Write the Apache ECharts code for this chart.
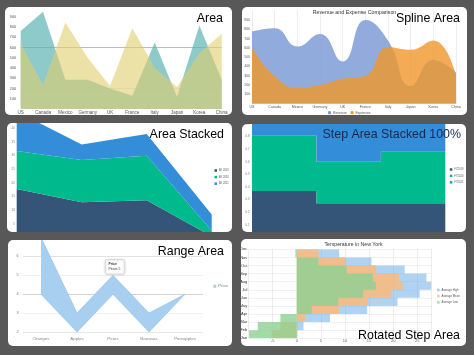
<!DOCTYPE html>
<html><head><meta charset="utf-8">
<script src="https://cdn.jsdelivr.net/npm/echarts@6.0.0/dist/echarts.min.js"></script>
<style>
html,body{margin:0;padding:0;width:474px;height:355px;background:#585858;overflow:hidden;}
.p{position:absolute;background:#fff;border-radius:5px;overflow:hidden;}
</style></head>
<body>
<div class="p" id="c1" style="left:5px;top:7px;width:227px;height:108px"></div>
<div class="p" id="c2" style="left:242px;top:7px;width:225px;height:108px"></div>
<div class="p" id="c3" style="left:7px;top:123px;width:225px;height:109px"></div>
<div class="p" id="c4" style="left:242px;top:124px;width:224px;height:108px"></div>
<div class="p" id="c5" style="left:8px;top:240px;width:224px;height:106px"></div>
<div class="p" id="c6" style="left:241px;top:239px;width:225px;height:107px"></div>
<script>
// ---------- data ----------
const countries = ['US','Canada','Mexico','Germany','UK','France','Italy','Japan','Korea','China'];
const areaSeriesA = [760, 950, 285, 285, 200, 130, 650, 120, 815, 285];
const areaSeriesB = [640, 235, 845, 500, 225, 790, 400, 215, 545, 735];
const revenue = [775, 810, 615, 750, 455, 900, 680, 190, 470, 335];
const expenses = [600, 300, 170, 200, 265, 300, 610, 580, 680, 300];

const stackCats = ['Q1','Q2','Q3','Q4'];
const stackNames = ['AY 2019','AY 2020','AY 2021'];
const stackA = [17.8, 12.9, 13.7, 0.5];
const stackB = [13.8, 15.4, 16.2, 2.0];
const stackC = [14.4, 5.7, 7.9, 6.0];

const stepCats = ['P1','P2','P3','P4'];
const stepNames = ['FY2019','FY2020','FY2021'];
const stepA = [0.367, 0.27, 0.27, 0.27];
const stepB = [0.439, 0.33, 0.41, 0.41];
const stepC = [0.194, 0.40, 0.32, 0.32];

const fruits = ['Oranges','Apples','Pears','Bananas','Pineapples'];
const priceLow = [4, 2, 4, 2, 4];
const priceHigh = [7, 3, 5, 3, 4];

const months = ['Jan','Feb','Mar','Apr','May','Jun','Jul','Aug','Sep','Oct','Nov','Dec'];
const avgHigh = [-0.5, 1.4, 6.9, 14.6, 20.9, 25.5, 27.9, 26.9, 22.4, 15.5, 8.8, 3.5];
const avgMean = [-5.2, -3.4, 1.7, 8.8, 14.8, 19.6, 22.0, 21.3, 16.5, 10.0, 4.5, -1.0];
const avgLow = [-9.9, -8.1, -3.4, 3.1, 8.6, 13.8, 16.4, 15.8, 10.3, 4.5, -0.3, -5.8];

// ---------- helpers ----------
const FF = "'Liberation Sans', Arial, Helvetica, sans-serif";
const T = 'rgba(0,0,0,0)';
function title(text, rx, my, color) {
  return {type:'text', x:rx, y:my, z:100, style:{text:text, fill:color||'#000', fontSize:12.4,
    fontFamily:FF, align:'right', verticalAlign:'middle'}};
}
function mk(id, opt) {
  const c = echarts.init(document.getElementById(id), null, {renderer:'canvas'});
  c.setOption(opt);
  return c;
}

// ---------- panel 1: Area ----------
mk('c1', {
  animation:false, textStyle:{fontFamily:FF},
  grid:{left:15.7, right:10.3, top:-0.5, bottom:6, outerBoundsMode:'none'},
  xAxis:{type:'category', data:countries, boundaryGap:false, axisLine:{show:false}, axisTick:{show:false},
    axisLabel:{interval:0, fontSize:4.5, color:'#555', margin:1}, splitLine:{show:false}},
  yAxis:{type:'value', min:0, max:1000, interval:100, z:3, axisLine:{show:false}, axisTick:{show:false},
    axisLabel:{fontSize:3.8, color:'#555', margin:4.5, showMinLabel:false, showMaxLabel:false},
    splitLine:{show:true, lineStyle:{width:0.7, color:[T,'rgba(0,0,0,0.13)','rgba(0,0,0,0.13)',T,T,T,'rgba(0,0,0,0.38)',T,T,T,T]}}},
  series:[
    {type:'line', data:areaSeriesA, symbol:'none', color:'#5fb3b3', lineStyle:{width:0}, areaStyle:{opacity:0.7}},
    {type:'line', data:areaSeriesB, symbol:'none', color:'#dfcf6e', lineStyle:{width:0}, areaStyle:{opacity:0.6}}
  ],
  graphic:{elements:[title('Area', 218, 12)]}
});

// ---------- panel 2: Spline Area ----------
mk('c2', {
  animation:false, textStyle:{fontFamily:FF},
  title:{text:'Revenue and Expense Comparison', left:'center', top:3, padding:0,
    textStyle:{fontSize:5.3, fontWeight:'normal', color:'#333', fontFamily:FF}},
  legend:{data:['Revenue','Expenses'], left:86, bottom:0.8, padding:0, icon:'rect', itemWidth:3, itemHeight:3, itemGap:4,
    textStyle:{fontSize:3.4, color:'#555', padding:[0,0,0,-3]}},
  grid:{left:10, right:11, top:3.7, bottom:11.3, outerBoundsMode:'none'},
  xAxis:{type:'category', data:countries, boundaryGap:false, z:3, axisLine:{show:false}, axisTick:{show:false},
    axisLabel:{interval:0, fontSize:3.6, color:'#555', margin:1.2},
    splitLine:{show:true, lineStyle:{width:0.6, color:'rgba(0,0,0,0.12)'}}},
  yAxis:{type:'value', min:0, max:1000, interval:100, axisLine:{show:false}, axisTick:{show:false},
    axisLabel:{fontSize:3.4, color:'#555', margin:2, showMinLabel:false, showMaxLabel:false}, splitLine:{show:false}},
  series:[
    {name:'Revenue', type:'line', smooth:true, data:revenue, symbol:'none', color:'#7e9dd6', lineStyle:{width:0}, areaStyle:{opacity:0.85}},
    {name:'Expenses', type:'line', smooth:true, data:expenses, symbol:'none', color:'#f0972a', lineStyle:{width:0}, areaStyle:{opacity:0.8}}
  ],
  graphic:{elements:[title('Spline Area', 218, 12)]}
});

// ---------- panel 3: Area Stacked ----------
const navy = '#345578', green = '#00b98c', blue = '#338dd8';
mk('c3', {
  animation:false, textStyle:{fontFamily:FF},
  legend:{data:stackNames, orient:'vertical', left:207.5, top:46, padding:0, icon:'rect', itemWidth:2.5, itemHeight:2.5, itemGap:3.6,
    textStyle:{fontSize:2.6, color:'#555', padding:[0,0,0,-3]}},
  grid:{left:9.7, right:20.3, top:-22.4, bottom:-5.7, outerBoundsMode:'none'},
  xAxis:{type:'category', data:stackCats, boundaryGap:false, show:false},
  yAxis:{type:'value', min:0, max:50, interval:5, axisLine:{show:false}, axisTick:{show:false}, splitLine:{show:false},
    axisLabel:{fontSize:2.8, color:'#777', margin:2}},
  series:[
    {name:stackNames[0], type:'line', stack:'s', data:stackA, symbol:'none', color:navy, lineStyle:{width:0}, areaStyle:{opacity:1}},
    {name:stackNames[1], type:'line', stack:'s', data:stackB, symbol:'none', color:green, lineStyle:{width:0}, areaStyle:{opacity:1}},
    {name:stackNames[2], type:'line', stack:'s', data:stackC, symbol:'none', color:blue, lineStyle:{width:0}, areaStyle:{opacity:1}}
  ],
  graphic:{elements:[title('Area Stacked', 217, 12)]}
});

// ---------- panel 4: Step Area Stacked 100% ----------
mk('c4', {
  animation:false, textStyle:{fontFamily:FF},
  legend:{data:stepNames, orient:'vertical', left:207.8, top:44, padding:0, icon:'rect', itemWidth:2.5, itemHeight:2.5, itemGap:3.4,
    textStyle:{fontSize:2.6, color:'#555', padding:[0,0,0,-3]}},
  grid:{left:10, right:20.7, top:-12.6, bottom:-5.3, outerBoundsMode:'none'},
  xAxis:{type:'category', data:stepCats, boundaryGap:false, show:false},
  yAxis:{type:'value', min:0, max:1, interval:0.1, axisLine:{show:false}, axisTick:{show:false}, splitLine:{show:false},
    axisLabel:{fontSize:2.9, color:'#777', margin:2.5, showMinLabel:false, showMaxLabel:false}},
  series:[
    {name:stepNames[0], type:'line', step:'end', stack:'s', data:stepA, symbol:'none', color:navy, lineStyle:{width:0}, areaStyle:{opacity:1}},
    {name:stepNames[1], type:'line', step:'end', stack:'s', data:stepB, symbol:'none', color:green, lineStyle:{width:0}, areaStyle:{opacity:1}},
    {name:stepNames[2], type:'line', step:'end', stack:'s', data:stepC, symbol:'none', color:blue, lineStyle:{width:0}, areaStyle:{opacity:1}}
  ],
  graphic:{elements:[title('Step Area Stacked 100%', 219, 11, '#16294d')]}
});

// ---------- panel 5: Range Area ----------
const c5 = mk('c5', {
  animation:false, textStyle:{fontFamily:FF},
  legend:{data:['Price'], left:205.3, top:44.3, padding:0, icon:'rect', itemWidth:3, itemHeight:3,
    textStyle:{fontSize:4.2, color:'#777', padding:[0,0,0,-3]}},
  grid:{left:15, right:29, top:-2.6, bottom:14, outerBoundsMode:'none'},
  xAxis:{type:'category', data:fruits, boundaryGap:true, axisLine:{show:false}, axisTick:{show:false},
    axisLabel:{interval:0, fontSize:4.4, color:'#888', margin:4.8}},
  yAxis:{type:'value', min:2, max:7, interval:1, axisLine:{show:false}, axisTick:{show:false},
    axisLabel:{fontSize:3.8, color:'#777', margin:4.3, showMaxLabel:false},
    splitLine:{show:true, lineStyle:{width:0.6, color:['#d5d5d5','#e6e6e6','#b5b5b5','#e6e6e6','#cfcfcf',T]}}},
  series:[
    {name:'low', type:'line', stack:'range', data:priceLow, symbol:'none', color:'#8bbde6', lineStyle:{width:0.6}},
    {name:'Price', type:'line', stack:'range', data:priceHigh.map((h,i)=>h-priceLow[i]), symbol:'none',
      color:'#a9cff0', lineStyle:{width:0.6, color:'#8bbde6'}, areaStyle:{color:'#a9cff0', opacity:1}}
  ]
});
const tipIdx = fruits.indexOf('Pears');
const tp = c5.convertToPixel({gridIndex:0}, [tipIdx, priceHigh[tipIdx]]);
c5.setOption({graphic:{elements:[
  title('Range Area', 216, 12),
  {type:'group', x:tp[0], y:tp[1], z:50, children:[
    {type:'rect', shape:{x:-7.4, y:-15.3, width:18.7, height:14, r:1},
      style:{fill:'#fff', stroke:'#d0d0d0', lineWidth:0.5, shadowBlur:3, shadowColor:'rgba(0,0,0,0.25)'}},
    {type:'text', x:-4.4, y:-11.6, style:{text:'Price', fontSize:3.4, fontWeight:'bold', fill:'#333', verticalAlign:'middle', fontFamily:FF}},
    {type:'text', x:-4.4, y:-6.3, style:{text:fruits[tipIdx] + ' ' + priceHigh[tipIdx], fontSize:3.4, fill:'#333', verticalAlign:'middle', fontFamily:FF}}
  ]}
]}});

// ---------- panel 6: Rotated Step Area ----------
mk('c6', {
  animation:false, textStyle:{fontFamily:FF},
  title:{text:'Temperature in New York', left:'center', top:3.2, padding:0,
    textStyle:{fontSize:5.2, fontWeight:'normal', color:'#333', fontFamily:FF}},
  legend:{data:['Average High','Average Mean','Average Low'], orient:'vertical', left:196, top:49.5, padding:0, icon:'rect',
    itemWidth:2.6, itemHeight:2.6, itemGap:3.2, itemStyle:{opacity:0.7},
    textStyle:{fontSize:2.8, color:'#555', padding:[0,0,0,-3]}},
  grid:{left:7.6, right:34.3, top:10.3, bottom:7.7, outerBoundsMode:'none'},
  xAxis:{type:'value', min:-10, max:28, interval:5, name:'Temperature(°C)', nameLocation:'middle', nameGap:1.8,
    nameTextStyle:{fontSize:3.9, color:'#333'}, axisLine:{show:false}, axisTick:{show:false},
    axisLabel:{fontSize:4, color:'#666', margin:0.3, showMinLabel:false, showMaxLabel:false},
    splitLine:{show:true, lineStyle:{width:0.5, color:'#d8d8d8'}}},
  yAxis:{type:'category', data:months, boundaryGap:false, axisLine:{show:false}, axisTick:{show:false},
    axisLabel:{interval:0, fontSize:4, color:'#333', margin:1.3},
    splitLine:{show:true, lineStyle:{width:0.5, color:'#e2e2e2'}}},
  series:[
    {name:'Average High', type:'line', step:'end', data:avgHigh, symbol:'none', color:'#7cb5ec', lineStyle:{width:0}, areaStyle:{opacity:0.6}},
    {name:'Average Mean', type:'line', step:'end', data:avgMean, symbol:'none', color:'#fbba7a', lineStyle:{width:0}, areaStyle:{opacity:0.85}},
    {name:'Average Low', type:'line', step:'end', data:avgLow, symbol:'none', color:'#8cd192', lineStyle:{width:0}, areaStyle:{opacity:0.8}}
  ],
  graphic:{elements:[title('Rotated Step Area', 219, 97)]}
});
</script>
</body></html>
